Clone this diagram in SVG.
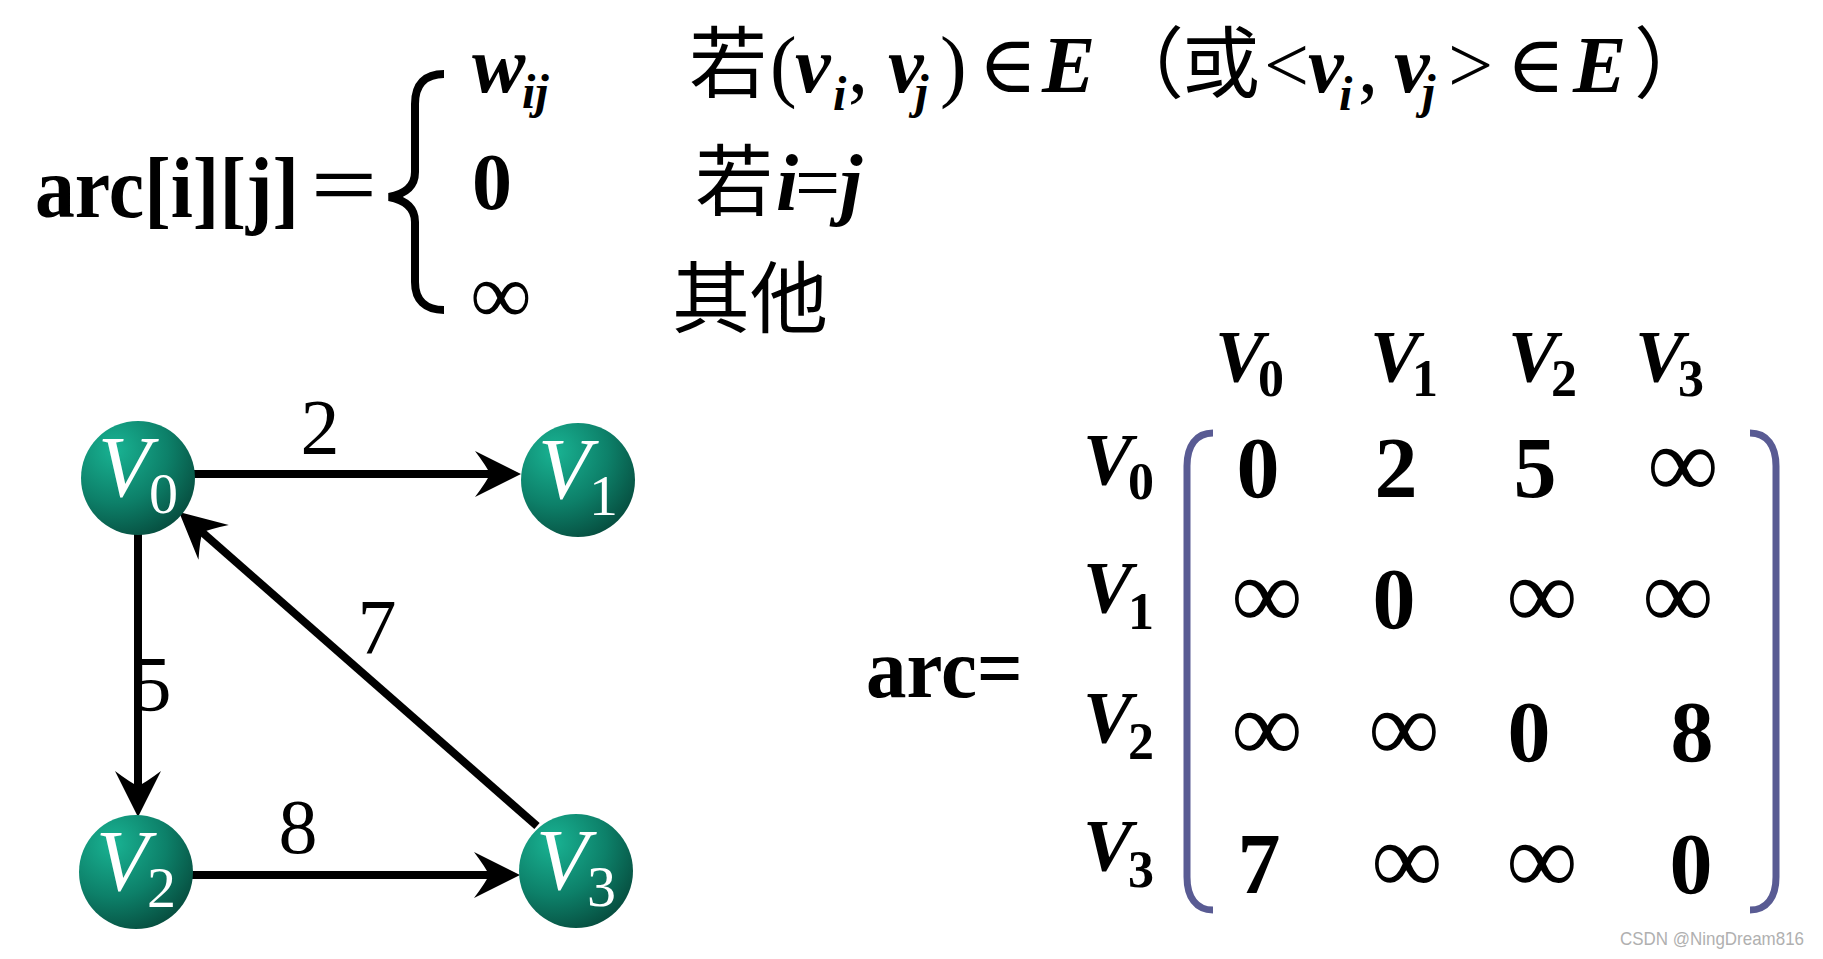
<svg xmlns="http://www.w3.org/2000/svg" width="1823" height="959" viewBox="0 0 1823 959">
<defs>
<radialGradient id="ball" cx="0.3" cy="0.25" r="0.85">
<stop offset="0" stop-color="#19b393"/>
<stop offset="0.55" stop-color="#0d8069"/>
<stop offset="1" stop-color="#064a3c"/>
</radialGradient>
<marker id="arr" markerUnits="userSpaceOnUse" viewBox="-48 -26 50 52" refX="-30" refY="0" markerWidth="50" markerHeight="52" orient="auto">
<path d="M0,0 L-46,-23 Q-34,-7 -31,0 Q-34,7 -46,23 Z" fill="#000"/>
</marker>
<style>
text{font-family:"Liberation Serif","DejaVu Serif","Noto Sans CJK SC",serif;fill:#000}
.b{font-weight:bold}
.bi{font-weight:bold;font-style:italic}
.cjk{font-family:"Liberation Serif","Noto Sans CJK SC",serif;font-size:78px}
.lat{font-size:80px}
.sub{font-size:48px}
.edge{stroke:#000;stroke-width:8;fill:none;marker-end:url(#arr)}
.node circle{fill:url(#ball)}
.node text{fill:#fff}
.nv{font-style:italic;font-size:86px}
.ns{font-size:58px}
.lbl{font-size:78px;text-anchor:middle}
.mv{font-weight:bold;font-style:italic;font-size:74px}
.ms{font-weight:bold;font-size:52px}
.me{font-weight:bold;font-size:86px;text-anchor:middle}
.inf{font-size:100px;text-anchor:middle}
.brk{fill:none;stroke:#595b93;stroke-width:7}
</style>
</defs>
<rect width="1823" height="959" fill="#fff"/>

<g id="formula">
<text class="b" x="35" y="217" font-size="86" textLength="264" lengthAdjust="spacingAndGlyphs">arc[i][j]</text>
<text x="344" y="214" font-size="76" text-anchor="middle" style="font-family:'Noto Sans CJK SC',sans-serif">＝</text>
<path d="M444,74 C425,74 415,84 415,104 L415,172 C415,186 405,194 389,197 C405,200 415,208 415,222 L415,282 C415,300 425,310 444,310" fill="none" stroke="#000" stroke-width="8"/>
<text class="bi lat" x="472" y="92">w</text>
<text class="bi sub" x="522" y="108">ij</text>
<text class="b" x="472" y="209" font-size="80">0</text>
<text x="501" y="323" font-size="86" text-anchor="middle">∞</text>
<text y="92">
<tspan class="cjk" x="689">若</tspan><tspan class="lat" x="770">(</tspan><tspan class="bi lat" x="795">v</tspan><tspan class="bi sub" x="833" y="110">i</tspan><tspan class="lat" x="848" y="92">,</tspan><tspan class="bi lat" x="888">v</tspan><tspan class="bi sub" x="915" y="108">j</tspan><tspan class="lat" x="940" y="92">)</tspan><tspan class="lat" x="978">∈</tspan><tspan class="bi lat" x="1042">E</tspan><tspan class="cjk" x="1106">（</tspan><tspan class="cjk" x="1182">或</tspan><tspan class="lat" x="1264">&lt;</tspan><tspan class="bi lat" x="1308">v</tspan><tspan class="bi sub" x="1339" y="110">i</tspan><tspan class="lat" x="1358" y="92">,</tspan><tspan class="bi lat" x="1394">v</tspan><tspan class="bi sub" x="1422" y="108">j</tspan><tspan class="lat" x="1448" y="92">&gt;</tspan><tspan class="lat" x="1506">∈</tspan><tspan class="bi lat" x="1573">E</tspan><tspan class="cjk" x="1634">）</tspan>
</text>
<text y="210"><tspan class="cjk" x="695">若</tspan><tspan class="bi lat" x="776">i</tspan><tspan class="lat" x="795">=</tspan><tspan class="bi lat" x="840">j</tspan></text>
<text y="327"><tspan class="cjk" x="672">其他</tspan></text>
</g>

<g id="connectors">
<line class="edge" x1="194" y1="474" x2="491" y2="474"/>
<line class="edge" x1="138" y1="533" x2="138" y2="787"/>
<line class="edge" x1="537" y1="826" x2="201.6" y2="531.8"/>
<line class="edge" x1="192" y1="875" x2="490" y2="875"/>
<text class="lbl" x="320" y="453">2</text>
<text class="lbl" x="152" y="710">5</text>
<text class="lbl" x="377" y="653">7</text>
<text class="lbl" x="298" y="853">8</text>
</g>

<g id="node-v0" class="node">
<circle cx="138" cy="478" r="57"/>
<text class="nv" x="98" y="496">V</text><text class="ns" x="149" y="513">0</text>
</g>
<g id="node-v1" class="node">
<circle cx="578" cy="480" r="57"/>
<text class="nv" x="538" y="498">V</text><text class="ns" x="589" y="515">1</text>
</g>
<g id="node-v2" class="node">
<circle cx="136" cy="872" r="57"/>
<text class="nv" x="96" y="890">V</text><text class="ns" x="147" y="907">2</text>
</g>
<g id="node-v3" class="node">
<circle cx="576" cy="871" r="57"/>
<text class="nv" x="536" y="889">V</text><text class="ns" x="587" y="906">3</text>
</g>

<g id="matrix">
<text class="b" x="866" y="697" font-size="84" textLength="157" lengthAdjust="spacingAndGlyphs">arc=</text>
<text class="mv" x="1215" y="382">V</text><text class="ms" x="1258" y="396">0</text>
<text class="mv" x="1370" y="382">V</text><text class="ms" x="1412" y="396">1</text>
<text class="mv" x="1508" y="382">V</text><text class="ms" x="1551" y="396">2</text>
<text class="mv" x="1635" y="382">V</text><text class="ms" x="1678" y="396">3</text>
<text class="mv" x="1083" y="485">V</text><text class="ms" x="1128" y="499">0</text>
<text class="mv" x="1083" y="613">V</text><text class="ms" x="1128" y="629">1</text>
<text class="mv" x="1083" y="743">V</text><text class="ms" x="1128" y="759">2</text>
<text class="mv" x="1083" y="871">V</text><text class="ms" x="1128" y="887">3</text>
<path class="brk" d="M1213,433 C1196,433 1187,446 1187,466 L1187,877 C1187,897 1196,910 1213,910"/>
<path class="brk" d="M1750,433 C1767,433 1776,446 1776,466 L1776,877 C1776,897 1767,910 1750,910"/>
<text class="me" x="1258" y="497">0</text>
<text class="me" x="1396" y="497">2</text>
<text class="me" x="1535" y="497">5</text>
<text class="inf" x="1683" y="497">∞</text>
<text class="inf" x="1267" y="628">∞</text>
<text class="me" x="1394" y="628">0</text>
<text class="inf" x="1542" y="628">∞</text>
<text class="inf" x="1678" y="628">∞</text>
<text class="inf" x="1267" y="761">∞</text>
<text class="inf" x="1404" y="761">∞</text>
<text class="me" x="1529" y="761">0</text>
<text class="me" x="1692" y="761">8</text>
<text class="me" x="1259" y="893">7</text>
<text class="inf" x="1407" y="893">∞</text>
<text class="inf" x="1542" y="893">∞</text>
<text class="me" x="1691" y="893">0</text>
</g>

<text x="1620" y="945" font-size="19" style="font-family:'Liberation Sans',sans-serif;fill:#b0b0b0" textLength="184" lengthAdjust="spacingAndGlyphs">CSDN @NingDream816</text>
</svg>
